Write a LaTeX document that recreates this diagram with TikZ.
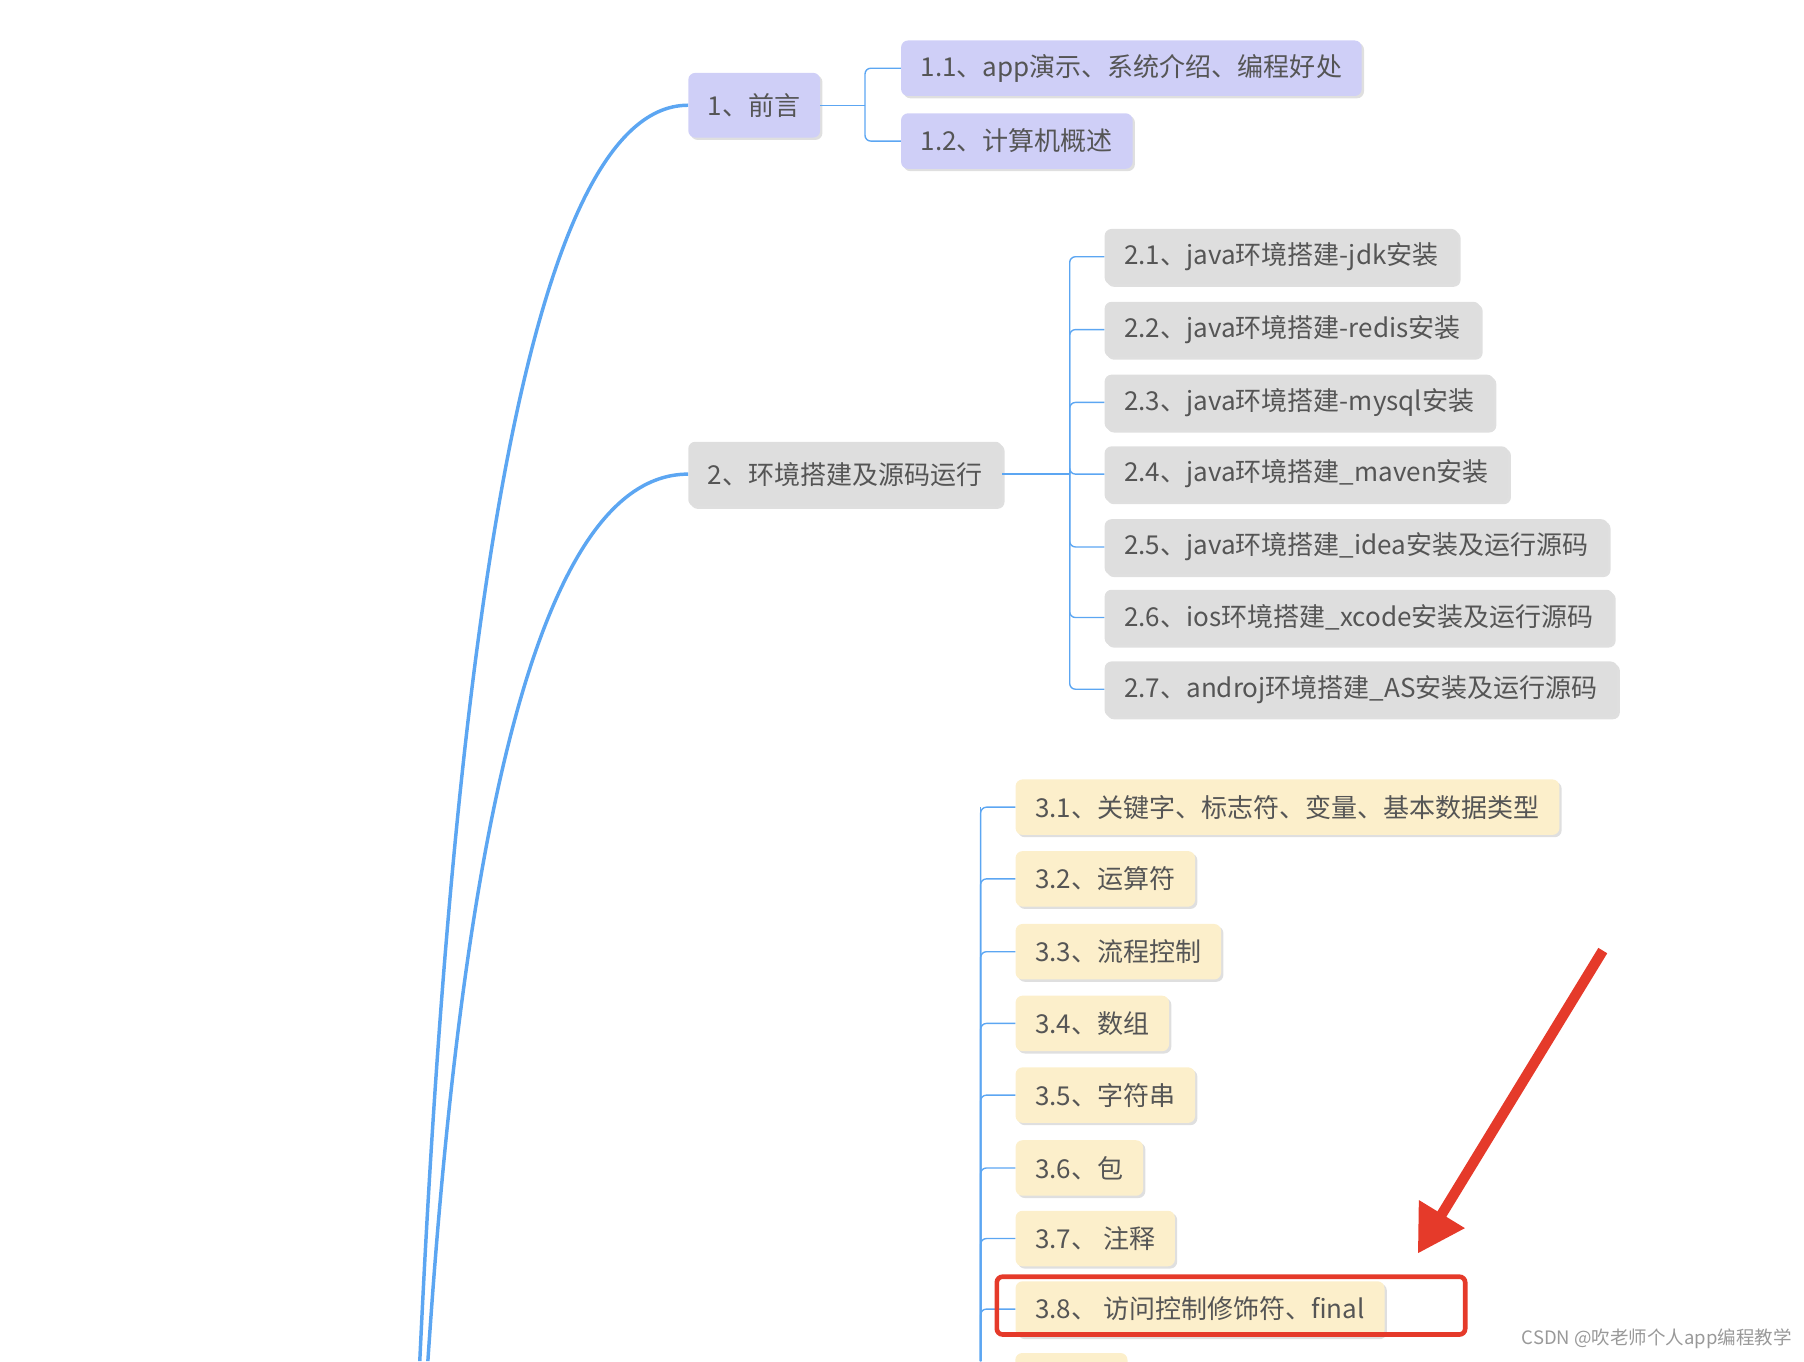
\documentclass[tikz,border=0pt]{standalone}
\usepackage{fontspec}
\setmainfont{Noto Sans CJK SC}
\usetikzlibrary{shadows,arrows.meta}
\definecolor{lav}{HTML}{CFCFF7}
\definecolor{gry}{HTML}{DEDEDE}
\definecolor{yel}{HTML}{FCEFCB}
\definecolor{lin}{HTML}{5CA6F2}
\definecolor{txt}{HTML}{555555}
\definecolor{rd}{HTML}{E53A2A}
\tikzset{
 box/.style={anchor=west,rounded corners=6pt,minimum height=48pt,inner xsep=17pt,font=\fontsize{22.5}{22.5}\selectfont,text=txt,drop shadow={shadow xshift=2pt,shadow yshift=-2pt,opacity=0.25}},
 b1/.style={box,fill=lav},b2/.style={box,fill=gry},b3/.style={box,fill=yel},
 br/.style={draw=lin,line width=1.2pt,rounded corners=5pt},
 big/.style={draw=lin,line width=3pt}
}
\begin{document}
\begin{tikzpicture}[x=1pt,y=-1pt]
\useasboundingbox (0,0) rectangle (1560,1177);
\node[b1,minimum height=56pt] (n1) at (595,91) {1、前言};
\node[b1] (n11) at (779,59) {1.1、app演示、系统介绍、编程好处};
\node[b1] (n12) at (779,122) {1.2、计算机概述};
\node[b2,minimum height=56pt] (n2) at (595,410) {2、环境搭建及源码运行};
\node[b2] (n21) at (955,222) {2.1、java环境搭建-jdk安装};
\node[b2] (n22) at (955,285) {2.2、java环境搭建-redis安装};
\node[b2] (n23) at (955,348) {2.3、java环境搭建-mysql安装};
\node[b2] (n24) at (955,410) {2.4、java环境搭建\_maven安装};
\node[b2] (n25) at (955,473) {2.5、java环境搭建\_idea安装及运行源码};
\node[b2] (n26) at (955,534) {2.6、ios环境搭建\_xcode安装及运行源码};
\node[b2] (n27) at (955,596) {2.7、androj环境搭建\_AS安装及运行源码};
\node[b3] (n31) at (878,698) {3.1、关键字、标志符、变量、基本数据类型};
\node[b3] (n32) at (878,760) {3.2、运算符};
\node[b3] (n33) at (878,823) {3.3、流程控制};
\node[b3] (n34) at (878,885) {3.4、数组};
\node[b3] (n35) at (878,947) {3.5、字符串};
\node[b3] (n36) at (878,1010) {3.6、包};
\node[b3] (n37) at (878,1071) {3.7、 注释};
\node[b3] (n38) at (878,1132) {3.8、 访问控制修饰符、final};
\fill[yel] (878,1170) [rounded corners=6pt] -- (975,1170) -- (975,1190) -- (878,1190) -- cycle;
\coordinate (b1) at (748,91);
\coordinate (b2) at (925,410);
\coordinate (b3) at (848,698);
\coordinate (e3) at (848,1177);
\coordinate (c1) at (363,1177);
\coordinate (c2) at (370,1177);
\draw[lin,line width=1.2pt] (n1.east) -- (b1);
\foreach \c in {n11,n12} \draw[br] (b1) |- (\c.west);
\draw[lin,line width=1.2pt] (n2.east) -- (b2);
\foreach \c in {n21,n22,n23,n24,n25,n26,n27} \draw[br] (b2) |- (\c.west);
\draw[lin,line width=1.2pt] (b3) -- (e3);
\foreach \c in {n31,n32,n33,n34,n35,n36,n37,n38} \draw[br] (e3) |- (\c.west);
\draw[big] (n1.west) .. controls (450,91) and (390,600) .. (c1);
\draw[big] (n2.west) .. controls (450,410) and (395,800) .. (c2);
\node[draw=rd,line width=4pt,rounded corners=5pt,minimum width=405pt,minimum height=50pt,anchor=west] (rb) at (860,1129) {};
\coordinate (a1) at (1386,822);
\coordinate (a2) at (1226,1084);
\draw[rd,line width=9pt,-{Triangle[length=40pt,width=44pt]}] (a1) -- (a2);
\node[anchor=east,text=gray!80,font=\fontsize{16}{16}\selectfont] (wm) at (1553,1158) {CSDN @吹老师个人app编程教学};
\end{tikzpicture}
\end{document}
